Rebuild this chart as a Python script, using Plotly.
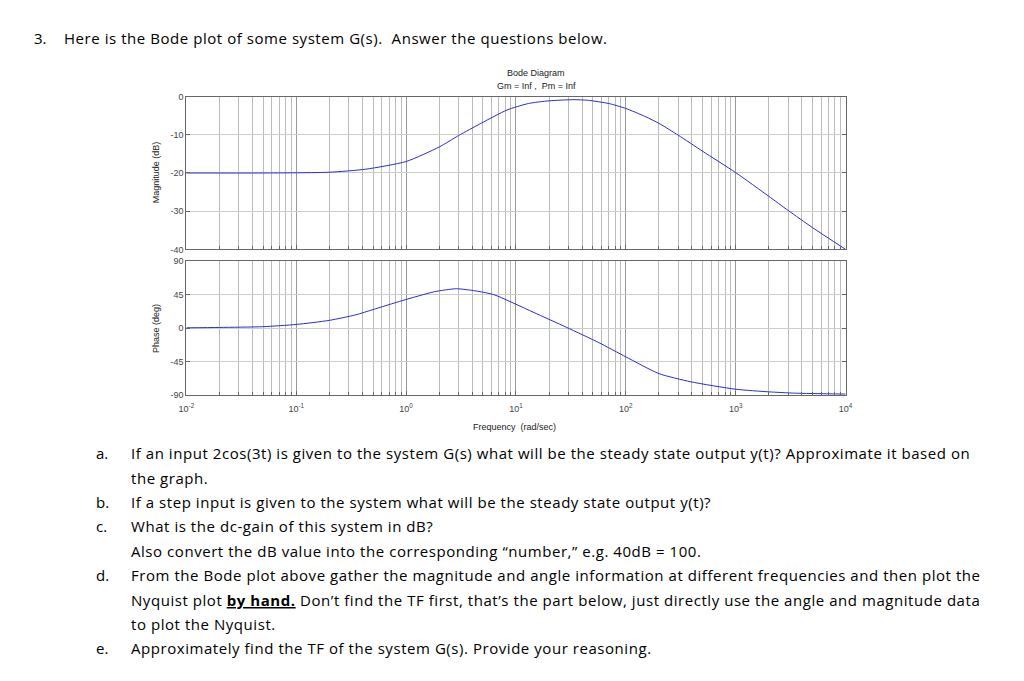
import plotly.graph_objects as go

W, H = 1024, 681

# values
freq_mag = [0.01, 0.05, 0.2, 0.43, 1, 2, 3, 4.8, 8.3, 13, 20, 33, 45, 70, 100,
            150, 206, 300, 500, 1000, 2000, 3000, 5000, 10000]
mag_db = [-20, -20, -19.8, -19.0, -17.0, -13.2, -10.2, -7.0, -3.5, -1.8, -1.1,
          -0.8, -0.95, -1.8, -3.1, -5.2, -7.2, -10.1, -14.3, -19.9, -26.1, -29.8,
          -34.3, -40]

freq_ph = [0.01, 0.02, 0.05, 0.1, 0.2, 0.35, 0.5, 0.92, 1.82, 2.87, 4.5, 6.3,
           14.3, 29, 57, 100, 200, 390, 1000, 2000, 3500, 10000]
phase_deg = [0.5, 1, 2, 5, 10.5, 18, 25, 37, 49, 53, 49.6, 45, 21.6, 1,
             -19.5, -38.5, -61, -72, -82, -85.5, -87.3, -88.5]

x_ticks = [0.01, 0.1, 1, 10, 100, 1000, 10000]
x_ticktext = ["10<sup>-2</sup>", "10<sup>-1</sup>", "10<sup>0</sup>", "10<sup>1</sup>",
              "10<sup>2</sup>", "10<sup>3</sup>", "10<sup>4</sup>"]
mag_ticks = [0, -10, -20, -30, -40]
phase_ticks = [90, 45, 0, -45, -90]

heading = "3.", "Here is the Bode plot of some system G(s).  Answer the questions below."
questions = [
    ("a.", "If an input 2cos(3t) is given to the system G(s) what will be the steady state output y(t)? Approximate it based on"),
    ("", "the graph."),
    ("b.", "If a step input is given to the system what will be the steady state output y(t)?"),
    ("c.", "What is the dc-gain of this system in dB?"),
    ("", "Also convert the dB value into the corresponding \u201cnumber,\u201d e.g. 40dB = 100."),
    ("d.", "From the Bode plot above gather the magnitude and angle information at different frequencies and then plot the"),
    ("", "Nyquist plot <b><span style='text-decoration:underline'>by hand.</span></b> Don\u2019t find the TF first, that\u2019s the part below, just directly use the angle and magnitude data"),
    ("", "to plot the Nyquist."),
    ("e.", "Approximately find the TF of the system G(s). Provide your reasoning."),
]


def px(x):
    return x / W


def py(y):
    return 1 - y / H


def spaced(t):
    return "<span style='letter-spacing:0.55px'>" + t + "</span>"


line_col = "#2b2bd6"
fig = go.Figure()
fig.add_trace(go.Scatter(x=freq_mag, y=mag_db, mode="lines", xaxis="x", yaxis="y",
                         line=dict(color=line_col, width=1, shape="spline", smoothing=0.6)))
fig.add_trace(go.Scatter(x=freq_ph, y=phase_deg, mode="lines", xaxis="x2", yaxis="y2",
                         line=dict(color=line_col, width=1, shape="spline", smoothing=0.6)))

tick_font = dict(family="Liberation Sans", size=9, color="#444444")
xcommon = dict(type="log", range=[-2, 4], showline=True, mirror=True, linecolor="#666666",
               linewidth=1, ticks="inside", ticklen=4, tickcolor="#666666",
               showgrid=True, gridcolor="#999999", gridwidth=1, zeroline=False,
               tickmode="array", tickvals=x_ticks,
               minor=dict(dtick="D1", showgrid=True, gridcolor="#bbbbbb", ticks="inside",
                          ticklen=3, tickcolor="#666666"),
               tickfont=tick_font, domain=[px(181), px(850)])
ycommon = dict(showline=True, mirror="ticks", linecolor="#666666", linewidth=1,
               ticks="inside", ticklen=4, tickcolor="#666666", showgrid=True,
               gridcolor="#cccccc", zeroline=False, tickfont=tick_font, tickmode="array")

fig.update_layout(
    width=W, height=H, margin=dict(l=0, r=0, t=0, b=0),
    paper_bgcolor="white", plot_bgcolor="white", showlegend=False,
    xaxis=dict(xcommon, anchor="y", showticklabels=False),
    yaxis=dict(ycommon, domain=[py(248), py(93)], range=[-40, 0], tickvals=mag_ticks,
               ticktext=[str(v) for v in mag_ticks], anchor="x"),
    xaxis2=dict(xcommon, anchor="y2", ticktext=x_ticktext, ticklabelstandoff=5),
    yaxis2=dict(ycommon, domain=[py(396), py(260)], range=[-90, 90], tickvals=phase_ticks,
                ticktext=[str(v) for v in phase_ticks], anchor="x2"),
)

small = dict(family="Liberation Sans", size=9, color="#222222")
ann = [
    dict(x=px(536), y=py(69), text="Bode Diagram", font=small),
    dict(x=px(536), y=py(82), text="Gm = Inf ,  Pm = Inf", font=small),
    dict(x=px(150), y=py(170), text="Magnitude (dB)", textangle=-90, font=small),
    dict(x=px(150), y=py(328), text="Phase (deg)", textangle=-90, font=small),
    dict(x=px(514), y=py(428), text="Frequency  (rad/sec)", font=small),
]
body = dict(family="Open Sans", size=15, color="black")
ann.append(dict(x=px(24), y=py(33), text=heading[0], xanchor="left", font=body))
ann.append(dict(x=px(55), y=py(33), text=spaced(heading[1]), xanchor="left", font=body))
for i, (lab, txt) in enumerate(questions):
    yy = 455 + i * 24.75
    if lab:
        ann.append(dict(x=px(87), y=py(yy), text=lab, xanchor="left", font=body))
    ann.append(dict(x=px(123), y=py(yy), text=spaced(txt), xanchor="left", font=body))

for a in ann:
    a.setdefault("xanchor", "center")
    a.update(xref="paper", yref="paper", yanchor="middle", showarrow=False)
fig.update_layout(annotations=ann)

fig.write_html("out.html", config={"displayModeBar": False},
               post_script="document.body.style.margin='0';")
